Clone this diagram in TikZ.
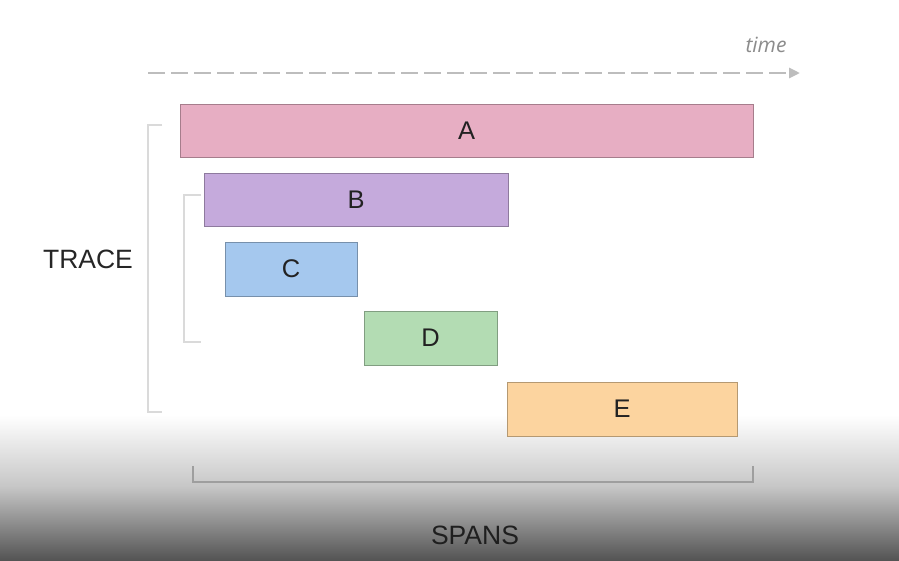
\documentclass[tikz,border=0pt]{standalone}
\usepackage{fontspec}
\setmainfont{Liberation Sans}
\newfontfamily\timefont{Open Sans}
\usetikzlibrary{arrows.meta}
\definecolor{cA}{HTML}{E7AEC3}
\definecolor{cB}{HTML}{C5AADC}
\definecolor{cC}{HTML}{A5C8EE}
\definecolor{cD}{HTML}{B3DCB3}
\definecolor{cE}{HTML}{FCD49F}
\definecolor{brk}{HTML}{DADADA}
\definecolor{arr}{HTML}{BDBDBD}
\definecolor{txt}{HTML}{222222}
\tikzset{
  span/.style={draw=#1!72!black, fill=#1, line width=1pt, inner sep=0pt,
    font=\fontsize{25.5}{28}\selectfont, text=txt},
  bracket/.style={draw=brk, line width=1.3pt},
  bigtext/.style={font=\fontsize{26.5}{30}\selectfont, text=black!85}
}
\begin{document}
\begin{tikzpicture}[x=1pt,y=-1pt]
\useasboundingbox (0,0) rectangle (899,560);
\fill[white] (0,0) rectangle (899,560);
% bottom video overlay gradient
\shade[top color=white, bottom color=white!78!black] (0,415) rectangle (899,486);
\shade[top color=white!78!black, bottom color=white!33!black] (0,486) rectangle (899,560);
% time axis
\coordinate (t0) at (148,73);
\coordinate (t1) at (800,73);
\draw[arr, line width=2.8pt, dash pattern=on 17pt off 6pt,
  -{Triangle[length=11pt,width=10pt]}] (t0) -- (t1);
\node[font=\timefont\itshape\fontsize{21}{24}\selectfont, text=black!45] (time) at (766,45) {time};
% spans
\node[span=cA, minimum width=573pt, minimum height=53pt] (A) at (466.5,130.5) {A};
\node[span=cB, minimum width=304pt, minimum height=53pt] (B) at (356,199.5) {B};
\node[span=cC, minimum width=132pt, minimum height=54pt] (C) at (291,269) {C};
\node[span=cD, minimum width=133pt, minimum height=54pt] (D) at (430.5,338) {D};
\node[span=cE, minimum width=230pt, minimum height=54pt] (E) at (622,409) {E};
% trace bracket
\coordinate (o1) at (162,125);
\coordinate (o2) at (162,412);
\draw[bracket] (o1) -- (148,125) -- (148,412) -- (o2);
\coordinate (i1) at (201,195);
\coordinate (i2) at (201,342);
\draw[bracket] (i1) -- (184,195) -- (184,342) -- (i2);
\node[bigtext] (trace) at (88,259) {TRACE};
% spans bracket
\coordinate (s1) at (193,466);
\coordinate (s2) at (753,466);
\draw[draw=white!62!black, line width=1.4pt] (s1) -- (193,482) -- (753,482) -- (s2);
\node[bigtext, text=black!88] (spans) at (475,535) {SPANS};
\end{tikzpicture}
\end{document}
